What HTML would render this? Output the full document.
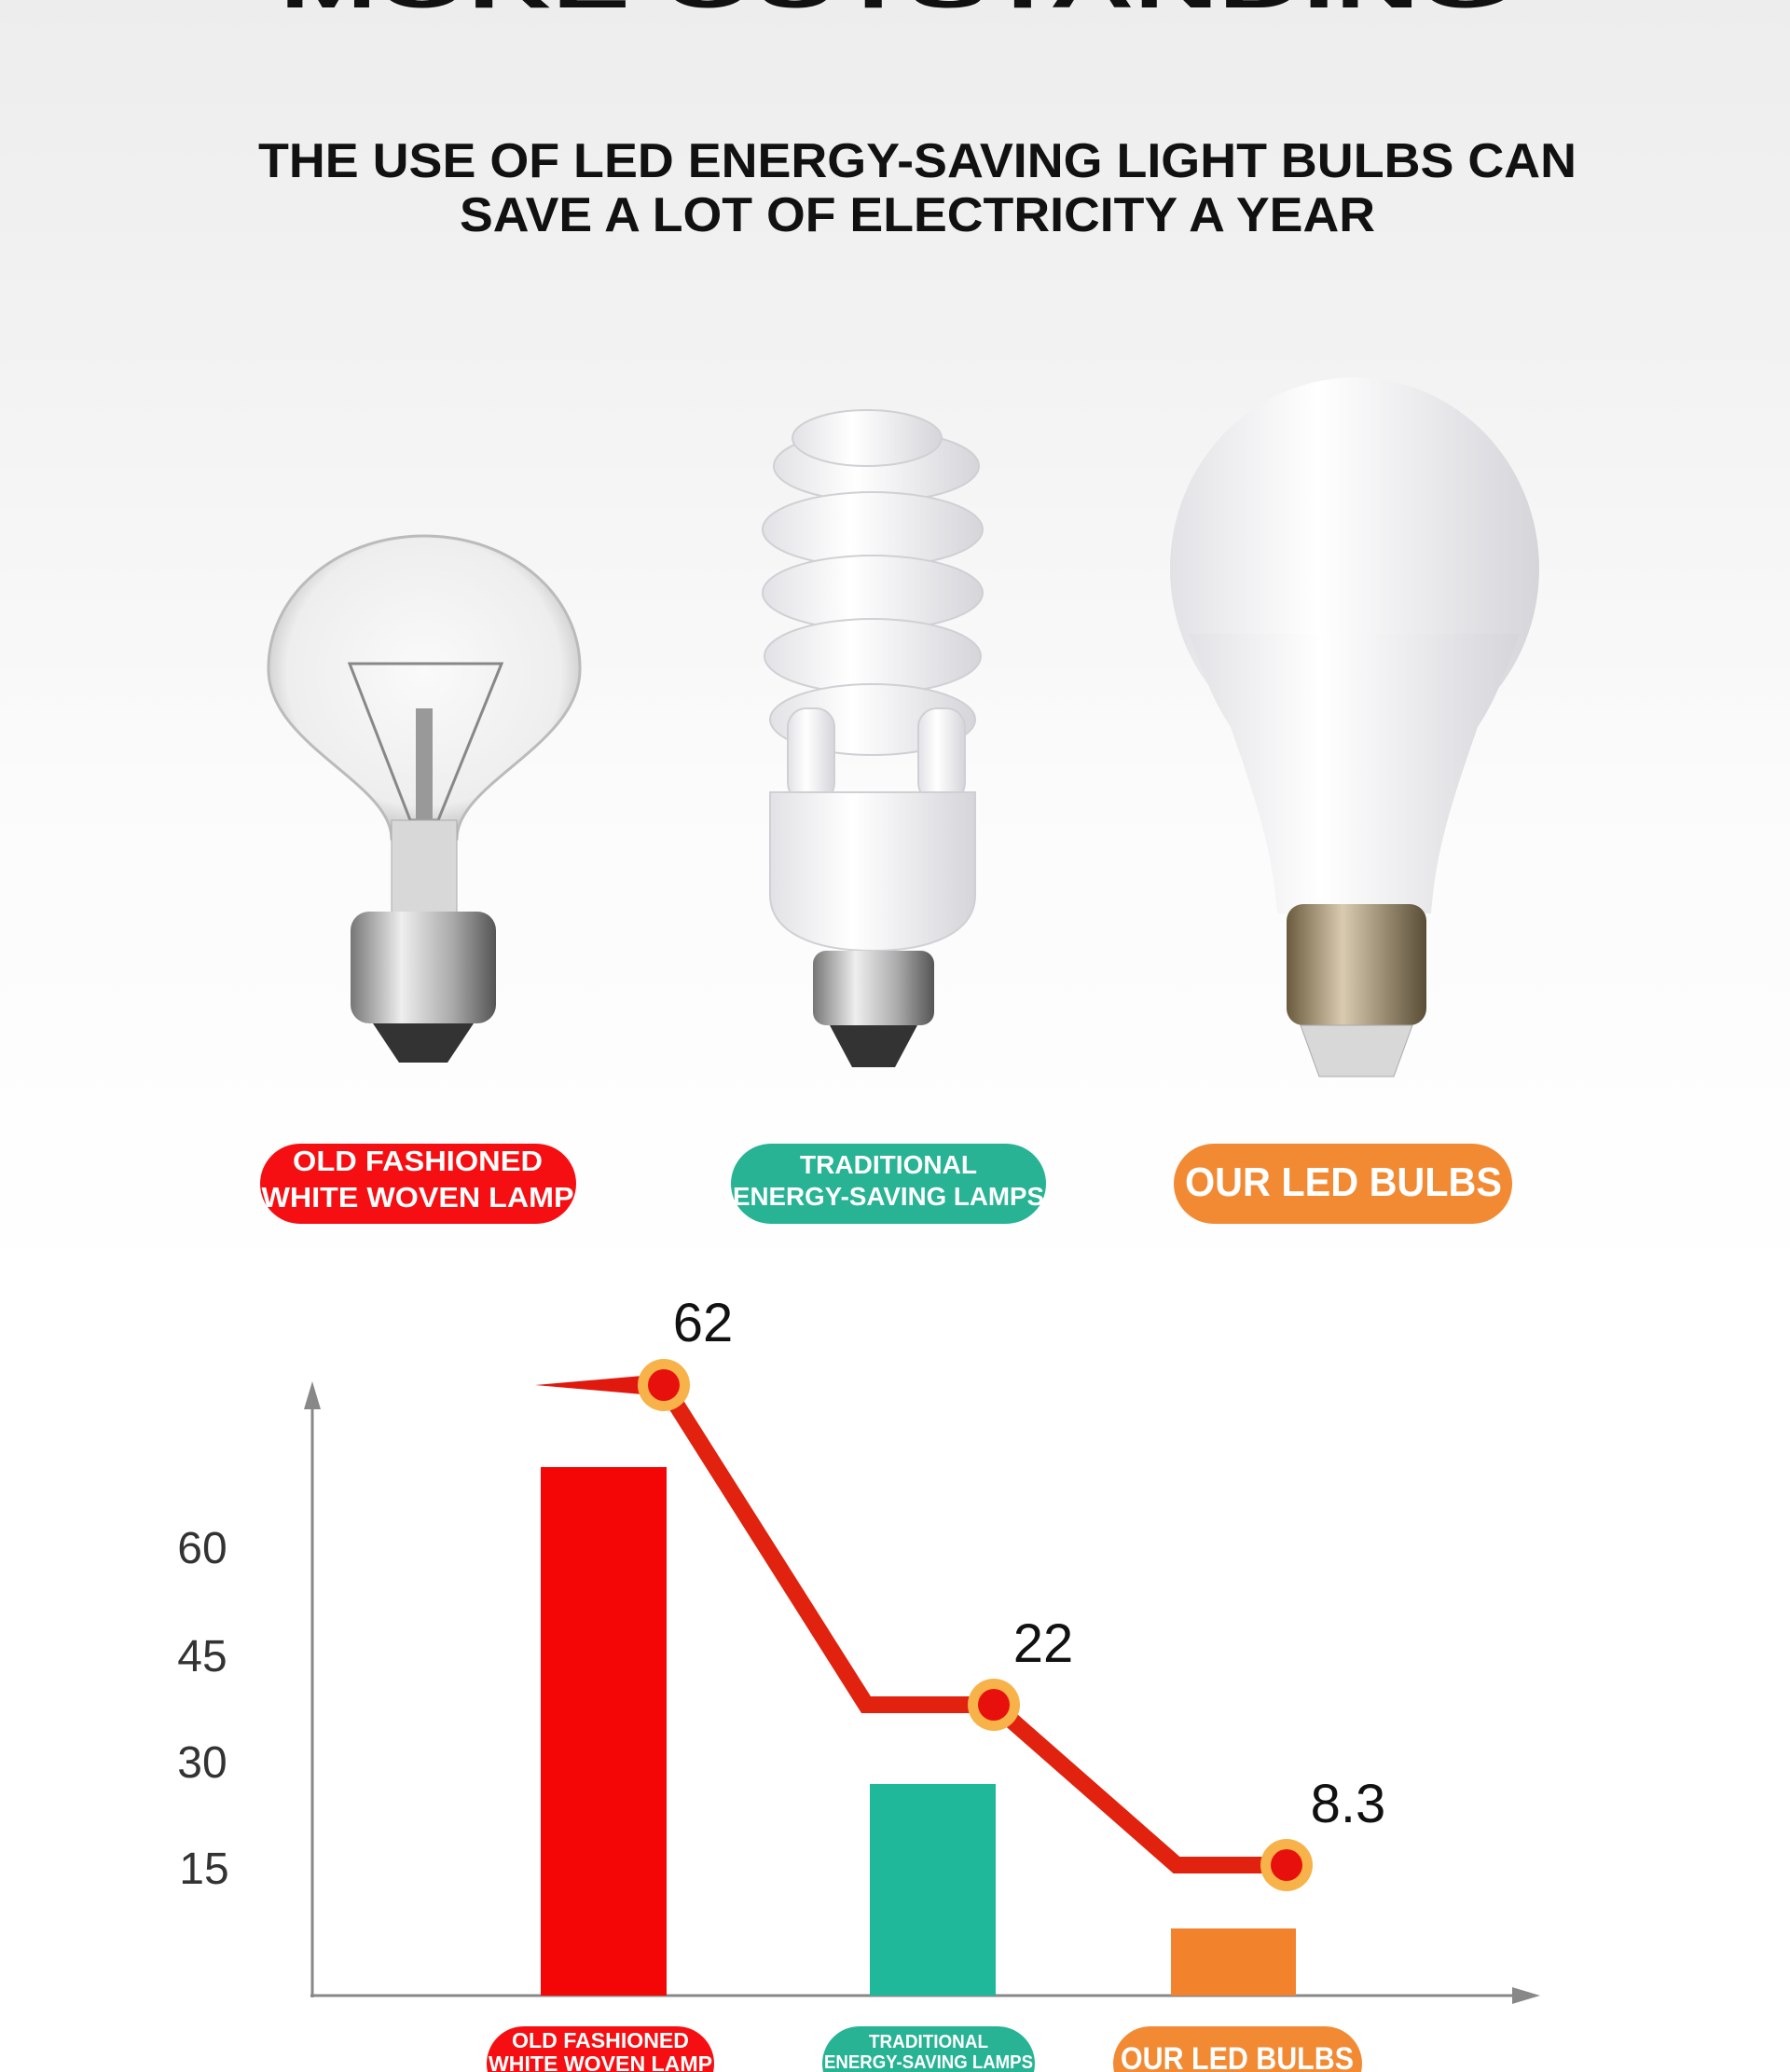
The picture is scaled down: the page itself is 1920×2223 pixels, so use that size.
<!DOCTYPE html>
<html><head><meta charset="utf-8"><style>
html,body{margin:0;padding:0;background:#fff}
svg{display:block}
text{font-family:"Liberation Sans","DejaVu Sans",sans-serif}
</style></head><body>
<svg width="1920" height="2223" viewBox="0 0 1920 2223" xmlns="http://www.w3.org/2000/svg">
<defs>
<linearGradient id="bg" x1="0" y1="0" x2="0" y2="1">
<stop offset="0" stop-color="#ededed"/><stop offset="0.3" stop-color="#f3f3f3"/><stop offset="0.6" stop-color="#fbfbfb"/><stop offset="1" stop-color="#ffffff"/>
</linearGradient>
<radialGradient id="glass" cx="0.5" cy="0.45" r="0.55">
<stop offset="0" stop-color="#fafafa"/><stop offset="0.8" stop-color="#eeeeee"/><stop offset="1" stop-color="#bdbdbd"/>
</radialGradient>
<linearGradient id="metal" x1="0" y1="0" x2="1" y2="0">
<stop offset="0" stop-color="#777"/><stop offset="0.35" stop-color="#eee"/><stop offset="0.7" stop-color="#aaa"/><stop offset="1" stop-color="#555"/>
</linearGradient>
<linearGradient id="brass" x1="0" y1="0" x2="1" y2="0">
<stop offset="0" stop-color="#6b5b3e"/><stop offset="0.4" stop-color="#d9cbb0"/><stop offset="1" stop-color="#5a4d36"/>
</linearGradient>
<linearGradient id="white" x1="0" y1="0" x2="1" y2="0">
<stop offset="0" stop-color="#e2e2e6"/><stop offset="0.4" stop-color="#ffffff"/><stop offset="1" stop-color="#d5d5da"/>
</linearGradient>
</defs>
<rect width="1920" height="1400" fill="url(#bg)"/>
<text x="984" y="190" text-anchor="middle" font-size="52" font-weight="bold" fill="#111" textLength="1414" lengthAdjust="spacingAndGlyphs">THE USE OF LED ENERGY-SAVING LIGHT BULBS CAN</text>
<text x="984" y="248" text-anchor="middle" font-size="52" font-weight="bold" fill="#111" textLength="982" lengthAdjust="spacingAndGlyphs">SAVE A LOT OF ELECTRICITY A YEAR</text>
<text x="960" y="8" text-anchor="middle" font-size="70" font-weight="bold" fill="#111" textLength="1320" lengthAdjust="spacingAndGlyphs">MORE OUTSTANDING</text>

<!-- incandescent -->
<g>
<path d="M420,900 C420,840 290,800 288,720 C286,640 360,575 455,575 C550,575 624,640 622,720 C620,800 490,840 490,900 Z" fill="url(#glass)" stroke="#bbb" stroke-width="3"/>
<path d="M375,712 L538,712 L470,880 L440,880 Z" fill="none" stroke="#888" stroke-width="3"/>
<rect x="446" y="760" width="18" height="120" fill="#999"/>
<rect x="420" y="880" width="70" height="100" fill="#d8d8d8" stroke="#aaa"/>
<rect x="376" y="978" width="156" height="120" rx="20" fill="url(#metal)"/>
<path d="M400,1098 L508,1098 L480,1140 L428,1140 Z" fill="#333"/>
</g>
<!-- CFL -->
<g>
<g fill="url(#white)" stroke="#d0d0d4" stroke-width="2">
<ellipse cx="940" cy="500" rx="110" ry="38"/>
<ellipse cx="936" cy="568" rx="118" ry="40"/>
<ellipse cx="936" cy="636" rx="118" ry="40"/>
<ellipse cx="936" cy="704" rx="116" ry="40"/>
<ellipse cx="936" cy="772" rx="110" ry="38"/>
<ellipse cx="930" cy="470" rx="80" ry="30"/>
<rect x="845" y="760" width="50" height="100" rx="20"/>
<rect x="985" y="760" width="50" height="100" rx="20"/>
<path d="M826,850 L1046,850 L1046,960 C1046,1000 1000,1020 936,1020 C872,1020 826,1000 826,960 Z"/>
</g>
<rect x="872" y="1020" width="130" height="80" rx="14" fill="url(#metal)"/>
<path d="M890,1100 L984,1100 L960,1145 L914,1145 Z" fill="#333"/>
</g>
<!-- LED -->
<g>
<ellipse cx="1453" cy="610" rx="198" ry="205" fill="url(#white)"/>
<path d="M1275,680 C1290,720 1300,750 1320,780 C1355,880 1365,920 1370,980 L1535,980 C1540,920 1550,880 1585,780 C1605,750 1615,720 1630,680 Z" fill="url(#white)"/>
<rect x="1380" y="970" width="150" height="130" rx="18" fill="url(#brass)"/>
<path d="M1395,1100 L1515,1100 L1495,1155 L1415,1155 Z" fill="#d8d8d8" stroke="#aaa"/>
</g>

<!-- pills -->
<rect x="279" y="1227" width="339" height="86" rx="43" fill="#f50f12"/>
<text x="448" y="1256" text-anchor="middle" font-size="31" font-weight="bold" fill="#fff" textLength="268" lengthAdjust="spacingAndGlyphs">OLD FASHIONED</text>
<text x="448" y="1295" text-anchor="middle" font-size="31" font-weight="bold" fill="#fff" textLength="335" lengthAdjust="spacingAndGlyphs">WHITE WOVEN LAMP</text>
<rect x="784" y="1227" width="338" height="86" rx="43" fill="#27b394"/>
<text x="953" y="1259" text-anchor="middle" font-size="28" font-weight="bold" fill="#fff" textLength="190" lengthAdjust="spacingAndGlyphs">TRADITIONAL</text>
<text x="953" y="1293" text-anchor="middle" font-size="28" font-weight="bold" fill="#fff" textLength="334" lengthAdjust="spacingAndGlyphs">ENERGY-SAVING LAMPS</text>
<rect x="1259" y="1227" width="363" height="86" rx="43" fill="#f28a34"/>
<text x="1441" y="1283" text-anchor="middle" font-size="44" font-weight="bold" fill="#fff" textLength="340" lengthAdjust="spacingAndGlyphs">OUR LED BULBS</text>

<!-- axes -->
<line x1="335" y1="1495" x2="335" y2="2143" stroke="#888" stroke-width="3"/>
<path d="M335,1482 L326,1512 L344,1512 Z" fill="#888"/>
<line x1="333" y1="2141" x2="1635" y2="2141" stroke="#888" stroke-width="3"/>
<path d="M1652,2141 L1622,2132 L1622,2150 Z" fill="#888"/>
<g font-size="48" fill="#333" text-anchor="middle">
<text x="217" y="1677">60</text>
<text x="217" y="1793">45</text>
<text x="217" y="1907">30</text>
<text x="219" y="2021">15</text>
</g>
<!-- bars -->
<rect x="580" y="1574" width="135" height="567" fill="#f50606"/>
<rect x="933" y="1914" width="135" height="227" fill="#20b89a"/>
<rect x="1256" y="2069" width="134" height="72" fill="#f2822c"/>
<!-- line -->
<path d="M574,1486 L712,1474 L712,1498 Z" fill="#e0180e"/>
<polyline points="700,1486 712,1486 929,1829 1066,1829 1262,2001 1380,2001" fill="none" stroke="#e0220e" stroke-width="18" stroke-linejoin="miter"/>
<g>
<circle cx="712" cy="1486" r="28" fill="#f7b24a"/><circle cx="712" cy="1486" r="17" fill="#e8100c"/>
<circle cx="1066" cy="1829" r="28" fill="#f7b24a"/><circle cx="1066" cy="1829" r="17" fill="#e8100c"/>
<circle cx="1380" cy="2001" r="28" fill="#f7b24a"/><circle cx="1380" cy="2001" r="17" fill="#e8100c"/>
</g>
<g font-size="58" fill="#111" text-anchor="middle">
<text x="754" y="1439">62</text>
<text x="1119" y="1783">22</text>
<text x="1446" y="1955">8.3</text>
</g>
<!-- bottom pills -->
<rect x="522" y="2174" width="244" height="80" rx="40" fill="#f50f12"/>
<text x="644" y="2197" text-anchor="middle" font-size="23" font-weight="bold" fill="#fff" textLength="190" lengthAdjust="spacingAndGlyphs">OLD FASHIONED</text>
<text x="644" y="2222" text-anchor="middle" font-size="23" font-weight="bold" fill="#fff" textLength="240" lengthAdjust="spacingAndGlyphs">WHITE WOVEN LAMP</text>
<rect x="882" y="2174" width="228" height="80" rx="40" fill="#27b394"/>
<text x="996" y="2197" text-anchor="middle" font-size="20" font-weight="bold" fill="#fff" textLength="128" lengthAdjust="spacingAndGlyphs">TRADITIONAL</text>
<text x="996" y="2219" text-anchor="middle" font-size="20" font-weight="bold" fill="#fff" textLength="224" lengthAdjust="spacingAndGlyphs">ENERGY-SAVING LAMPS</text>
<rect x="1194" y="2174" width="267" height="80" rx="40" fill="#f28a34"/>
<text x="1327" y="2220" text-anchor="middle" font-size="34" font-weight="bold" fill="#fff" textLength="250" lengthAdjust="spacingAndGlyphs">OUR LED BULBS</text>
</svg>
</body></html>
